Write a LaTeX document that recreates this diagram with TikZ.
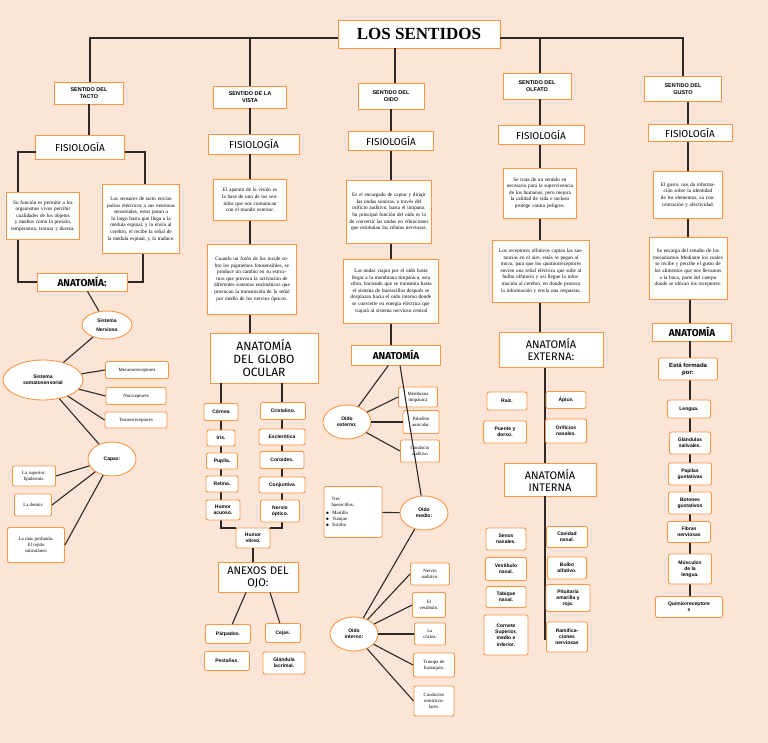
\documentclass[tikz,border=0pt]{standalone}
\usepackage{fontspec}
\setmainfont{Liberation Serif}
\newfontfamily\hsans{Liberation Sans}
\newfontfamily\fira{Fira Sans}
\usetikzlibrary{shapes.geometric}
\definecolor{bg}{RGB}{252,229,214}
\definecolor{orng}{RGB}{246,150,70}
\definecolor{ln}{RGB}{45,40,38}
\tikzset{
 bx/.style={draw=orng,fill=white,line width=0.9pt,align=center,inner sep=1.5pt},
 hd/.style={bx,font=\hsans\bfseries\fontsize{5.5}{7}\selectfont},
 fis/.style={bx,font=\fira\fontsize{10}{12}\selectfont,inner xsep=4pt},
 tb/.style={bx,font=\fontsize{5.2}{6.6}\selectfont},
 sb/.style={bx,rounded corners=2pt,font=\hsans\bfseries\fontsize{5}{6.2}\selectfont},
 st/.style={bx,rounded corners=2pt,font=\fontsize{4.8}{6}\selectfont},
 el/.style={ellipse,draw=orng,fill=white,line width=0.9pt,align=center,inner sep=0pt,font=\hsans\bfseries\fontsize{5}{6.2}\selectfont},
 cn/.style={draw=ln,line width=1.1pt},
}
\begin{document}
\begin{tikzpicture}[x=1pt,y=-1pt]
\fill[bg] (0,0) rectangle (768,743);
\useasboundingbox (0,0) rectangle (768,743);
% title
\node[bx,minimum width=162pt,minimum height=28pt,font=\bfseries\fontsize{17}{20}\selectfont] (T) at (419,34) {LOS SENTIDOS};
\draw[cn] (90,93) -- (90,38) -- (338,38);
\draw[cn] (500,38) -- (683,38) -- (683,89);
\draw[cn] (250,38) -- (250,97);
\draw[cn] (395,48) -- (395,96);
\draw[cn] (540,38) -- (540,86);
% headers
\node[hd,minimum width=69pt,minimum height=22pt] (h1) at (89,93) {SENTIDO DEL\\TACTO};
\node[hd,minimum width=73pt,minimum height=22pt] (h2) at (250,97) {SENTIDO DE LA\\VISTA};
\node[hd,minimum width=66pt,minimum height=26pt] (h3) at (391,96) {SENTIDO DEL\\OIDO};
\node[hd,minimum width=68pt,minimum height=26pt] (h4) at (537,86) {SENTIDO DEL\\OLFATO};
\node[hd,minimum width=77pt,minimum height=25pt] (h5) at (683,89) {SENTIDO DEL\\GUSTO};
% ===== TACTO
\draw[cn] (89,104) -- (89,135);
\node[fis,minimum width=89pt,minimum height=24pt] (f1) at (80,147) {FISIOLOGÍA};
\draw[cn] (18,193) -- (18,152) -- (36,152);
\draw[cn] (125,152) -- (145,152) -- (145,185);
\node[tb,text width=70pt,minimum height=47pt] (t1a) at (43,216) {Su función es permitir a los organismos vivos percibir cualidades de los objetos y medios como la presión, temperatura, textura y dureza.};
\node[tb,text width=74pt,minimum height=69pt] (t1b) at (141,219) {Los sensores de tacto envían pulsos eléctricos a sus neuronas sensoriales, estos pasan a lo largo hasta que llega a la médula espinal, y la envía al cerebro, el recibe la señal de la médula espinal, y la traduce.};
\draw[cn] (18,240) -- (18,282) -- (37,282);
\draw[cn] (143,254) -- (143,282) -- (127,282);
\node[fis,minimum width=90pt,minimum height=18pt,font=\fira\bfseries\fontsize{10}{12}\selectfont] (a1) at (82,282) {ANATOMÍA:};
\node[el,minimum width=50pt,minimum height=28pt] (sn) at (107,325) {Sistema\\[3pt]Nervioso};
\node[el,minimum width=80pt,minimum height=40pt] (ss) at (43,380) {Sistema\\somatosensorial};
\node[st,minimum width=63pt,minimum height=17pt] (m1) at (137,370) {Mecanorreceptores};
\node[st,minimum width=60pt,minimum height=17pt] (m2) at (136,396) {Nociceptores};
\node[st,minimum width=62pt,minimum height=16pt] (m3) at (136,420) {Termorreceptores};
\node[el,minimum width=48pt,minimum height=34pt] (cp) at (112,459) {Capas:};
\node[st,text width=40pt,minimum height=20pt] (c1) at (34,476) {La superior:\\Epidermis.};
\node[st,minimum width=37pt,minimum height=22pt] (c2) at (33,505) {La dermis};
\node[st,text width=54pt,minimum height=35pt] (c3) at (36,545) {La más profunda:\\El tejido\\subcutáneo};
\draw[cn] (a1) -- (sn); \draw[cn] (sn) -- (ss);
\foreach \n in {m1,m2,m3} \draw[cn] (ss) -- (\n.west);
\draw[cn] (ss) -- (cp);
\foreach \n in {c1,c2,c3} \draw[cn] (cp) -- (\n.east);
% ===== VISTA
\draw[cn] (250,108) -- (250,134);
\node[fis,minimum width=91pt,minimum height=20pt] (f2) at (254,144) {FISIOLOGÍA};
\draw[cn] (250,154) -- (250,180); \draw[cn] (250,221) -- (250,244); \draw[cn] (250,314) -- (250,333);
\node[tb,text width=70pt,minimum height=41pt] (t2a) at (250,200) {El aparato de la visión es la base de uno de los sentidos que nos comunican con el mundo exterior.};
\node[tb,text width=86pt,minimum height=70pt] (t2b) at (252,279) {Cuando un fotón de luz incide sobre los pigmentos fotosensibles, se produce un cambio en su estructura que provoca la activación de diferentes sistemas enzimáticos que provocan la transmisión de la señal por medio de los nervios ópticos.};
\node[fis,text width=100pt,minimum height=50pt,font=\fira\fontsize{12}{13}\selectfont] (a2) at (264,358) {ANATOMÍA\\DEL GLOBO\\OCULAR};
\draw[cn] (221,383) -- (221,528) -- (236,528);
\draw[cn] (282,383) -- (282,528) -- (270,528);
\node[sb,minimum width=34pt,minimum height=17pt] (v1) at (221,412) {Córnea};
\node[sb,minimum width=45pt,minimum height=17pt] (v2) at (283,411) {Cristalino.};
\node[sb,minimum width=28pt,minimum height=16pt] (v3) at (221,438) {Iris.};
\node[sb,minimum width=46pt,minimum height=16pt] (v4) at (282,437) {Esclerótica};
\node[sb,minimum width=31pt,minimum height=16pt] (v5) at (222,461) {Pupila.};
\node[sb,minimum width=44pt,minimum height=17pt] (v6) at (282,460) {Coroides.};
\node[sb,minimum width=32pt,minimum height=16pt] (v7) at (222,484) {Retina.};
\node[sb,minimum width=46pt,minimum height=16pt] (v8) at (282,485) {Conjuntiva};
\node[sb,minimum width=34pt,minimum height=20pt] (v9) at (223,510) {Humor\\acuoso.};
\node[sb,minimum width=39pt,minimum height=22pt] (v10) at (280,511) {Nervio\\óptico.};
\node[sb,minimum width=34pt,minimum height=20pt] (v11) at (253,538) {Humor\\vítreo.};
\draw[cn] (v11) -- (253,562);
\node[fis,text width=72pt,minimum height=30pt,font=\fira\fontsize{11}{12}\selectfont] (ax) at (258,577) {ANEXOS DEL\\OJO:};
\node[sb,minimum width=45pt,minimum height=19pt] (x1) at (228,634) {Párpados.};
\node[sb,minimum width=35pt,minimum height=19pt] (x2) at (283,633) {Cejas.};
\node[sb,minimum width=45pt,minimum height=19pt] (x3) at (227,661) {Pestañas.};
\node[sb,minimum width=42pt,minimum height=22pt] (x4) at (284,663) {Glándula\\lacrimal.};
\draw[cn] (ax.south) ++(-12,0) -- (x1); \draw[cn] (ax.south) ++(12,0) -- (x2);
% ===== OIDO
\draw[cn] (391,109) -- (391,131); \draw[cn] (391,150) -- (391,180); \draw[cn] (391,243) -- (391,259); \draw[cn] (391,323) -- (391,345);
\node[fis,minimum width=85pt,minimum height=19pt] (f3) at (391,141) {FISIOLOGÍA};
\node[tb,text width=82pt,minimum height=63pt] (t3a) at (389,212) {Es el encargado de captar y dirigir las ondas sonoras, a través del orificio auditivo, hasta el tímpano. Su principal función del oído es la de convertir las ondas en vibraciones que estimulan las células nerviosas.};
\node[tb,text width=92pt,minimum height=64pt] (t3b) at (391,291) {Las ondas viajan por el oído hasta llegar a la membrana timpánica, esta vibra, haciendo que se transmita hasta el sistema de huesecillos después se desplazan hacia el oído interno donde se convierte en energía eléctrica que viajará al sistema nervioso central};
\node[fis,minimum width=89pt,minimum height=20pt,font=\fira\bfseries\fontsize{10}{12}\selectfont] (a3) at (396,355) {ANATOMÍA};
\node[el,minimum width=48pt,minimum height=34pt] (oe) at (347,422) {Oído\\externo:};
\node[el,minimum width=48pt,minimum height=34pt] (om) at (424,513) {Oído\\medio:};
\node[el,minimum width=48pt,minimum height=34pt] (oi) at (354,634) {Oído\\interno:};
\node[st,text width=36pt,minimum height=20pt] (e1) at (418,397) {Membrana\\timpánica};
\node[st,text width=33pt,minimum height=23pt] (e2) at (421,422) {Pabellón\\auricular.};
\node[st,text width=36pt,minimum height=22pt] (e3) at (420,451) {Conducto\\auditivo};
\node[st,text width=55pt,minimum height=51pt,align=left] (th) at (353,512) {\hspace*{6pt}Tres\\\hspace*{6pt}huesecillos:\\[2pt]$\bullet$\ \ Martillo\\$\bullet$\ \ Yunque\\$\bullet$\ \ Estribo};
\node[st,text width=36pt,minimum height=22pt] (i1) at (430,574) {Nervio\\auditivo.};
\node[st,text width=30pt,minimum height=25pt] (i2) at (429,605) {El\\vestíbulo.};
\node[st,text width=28pt,minimum height=22pt] (i3) at (430,634) {La\\cóclea.};
\node[st,text width=38pt,minimum height=24pt] (i4) at (434,665) {Trompa de\\Eustaquio.};
\node[st,text width=37pt,minimum height=30pt] (i5) at (434,701) {Conductos\\semicircu-\\lares.};
\draw[cn] (a3) -- (oe); \draw[cn] (a3.south) ++(4,0) -- (om);
\foreach \n in {e1,e2,e3} \draw[cn] (oe) -- (\n.west);
\draw[cn] (om) -- (th); \draw[cn] (om) -- (oi);
\foreach \n in {i1,i2,i3,i4,i5} \draw[cn] (oi) -- (\n.west);
% ===== OLFATO
\draw[cn] (540,99) -- (540,126); \draw[cn] (540,145) -- (540,168); \draw[cn] (540,218) -- (540,240); \draw[cn] (540,302) -- (540,333);
\node[fis,minimum width=86pt,minimum height=19pt] (f4) at (541,135) {FISIOLOGÍA};
\node[tb,text width=70pt,minimum height=50pt] (t4a) at (540,193) {Se trata de un sentido en necesario para la supervivencia de los humanos, pero mejora la calidad de vida e incluso protege contra peligros.};
\node[tb,text width=94pt,minimum height=62pt] (t4b) at (541,271) {Los receptores olfativos captan las sustancias en el aire, estás se pegan al moco, para que los quimiorreceptores envíen una señal eléctrica que sube al bulbo olfatorio y así llegue la información al cerebro, en donde procesa la información y envía una respuesta.};
\node[fis,text width=96pt,minimum height=35pt,font=\fira\fontsize{11}{12}\selectfont] (a4) at (551,350) {ANATOMÍA\\EXTERNA:};
\draw[cn] (545,368) -- (545,463);
\node[sb,minimum width=40pt,minimum height=18pt] (o1) at (507,401) {Raíz.};
\node[sb,minimum width=40pt,minimum height=17pt] (o2) at (566,400) {Ápice.};
\node[sb,minimum width=43pt,minimum height=22pt] (o3) at (505,432) {Puente y\\dorso.};
\node[sb,minimum width=41pt,minimum height=24pt] (o4) at (566,431) {Orificios\\nasales.};
\node[fis,text width=84pt,minimum height=33pt,font=\fira\fontsize{11}{12}\selectfont] (a5) at (550,480) {ANATOMÍA\\INTERNA};
\draw[cn] (545,496) -- (545,640);
\node[sb,minimum width=40pt,minimum height=22pt] (n1) at (506,539) {Senos\\nasales.};
\node[sb,minimum width=41pt,minimum height=21pt] (n2) at (567,537) {Cavidad\\nasal.};
\node[sb,minimum width=41pt,minimum height=23pt] (n3) at (506,569) {Vestíbulo\\nasal.};
\node[sb,minimum width=39pt,minimum height=22pt] (n4) at (567,568) {Bulbo\\olfativo.};
\node[sb,minimum width=40pt,minimum height=21pt] (n5) at (506,597) {Tabique\\nasal.};
\node[sb,minimum width=44pt,minimum height=27pt] (n6) at (568,598) {Pituitaria\\amarilla y\\roja.};
\node[sb,minimum width=44pt,minimum height=40pt] (n7) at (506,635) {Cornete\\Superior,\\medio e\\inferior.};
\node[sb,minimum width=41pt,minimum height=30pt] (n8) at (567,637) {Ramifica-\\ciones\\nerviosas};
% ===== GUSTO
\draw[cn] (688,102) -- (688,125); \draw[cn] (688,142) -- (688,171); \draw[cn] (688,218) -- (688,237); \draw[cn] (690,299) -- (690,323);
\node[fis,minimum width=84pt,minimum height=17pt] (f5) at (690,133) {FISIOLOGÍA};
\node[tb,text width=66pt,minimum height=47pt] (t5a) at (688,195) {El gusto, nos da información sobre la identidad de los elementos, su concentración y afectividad.};
\node[tb,text width=75pt,minimum height=62pt] (t5b) at (688,268) {Se encarga del estudio de los mecanismos Mediante los cuales se recibe y percibe el gusto de los alimentos que nos llevamos a la boca, parte del cuerpo donde se ubican los receptores.};
\node[fis,minimum width=79pt,minimum height=18pt,font=\fira\bfseries\fontsize{10}{12}\selectfont] (a6) at (692,332) {ANATOMÍA};
\draw[cn] (690,341) -- (690,600);
\node[sb,minimum width=59pt,minimum height=22pt,font=\hsans\bfseries\fontsize{6}{7}\selectfont] (g0) at (688,369) {Está formada\\por:};
\node[sb,minimum width=43pt,minimum height=18pt] (g1) at (689,409) {Lengua.};
\node[sb,minimum width=41pt,minimum height=22pt] (g2) at (690,443) {Glándulas\\salivales.};
\node[sb,minimum width=43pt,minimum height=22pt] (g3) at (690,474) {Papilas\\gustativas};
\node[sb,minimum width=43pt,minimum height=22pt] (g4) at (690,503) {Botones\\gustativos};
\node[sb,minimum width=43pt,minimum height=21pt] (g5) at (689,532) {Fibras\\nerviosas};
\node[sb,minimum width=43pt,minimum height=30pt] (g6) at (690,569) {Músculos\\de la\\lengua.};
\node[sb,text width=64pt,minimum height=21pt] (g7) at (689,607) {Quimiorreceptore\\s};
\end{tikzpicture}
\end{document}
